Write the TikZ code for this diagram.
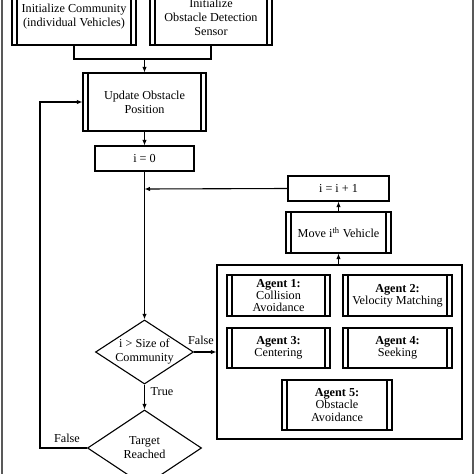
\documentclass[tikz,border=0pt]{standalone}
\usepackage{fontspec}
\setmainfont{Liberation Serif}
\usetikzlibrary{arrows.meta,shapes.geometric}
\begin{document}
\begin{tikzpicture}[x=1pt,y=-1pt,
  every path/.style={line width=1.1pt},
  arr/.style={-{Latex[length=5.5pt,width=4.5pt]}},
  txt/.style={font=\fontsize{12.2}{14}\selectfont, align=center, inner sep=0pt},
  box/.style={txt, draw, rectangle},
  proc/.style={box, path picture={
      \draw ([xshift=5pt]path picture bounding box.north west) -- ([xshift=5pt]path picture bounding box.south west);
      \draw ([xshift=-5pt]path picture bounding box.north east) -- ([xshift=-5pt]path picture bounding box.south east);}},
  agent/.style={proc, font=\fontsize{12.2}{12.2}\selectfont},
  dec/.style={txt, draw, diamond, aspect=1.5},
  lbl/.style={txt}
]
\useasboundingbox (0,0) rectangle (474,474);
\draw[gray!70!black, line width=2pt] (2,0) -- (2,474);
\draw[gray!70!black, line width=2pt] (472.5,0) -- (472.5,474);

\node[proc, minimum width=124pt, minimum height=56pt] (c1) at (74,17) {Initialize Community\\(individual Vehicles)};
\node[proc, minimum width=122pt, minimum height=56pt] (c2) at (211,17) {Initialize\\Obstacle Detection\\Sensor};
\node[proc, minimum width=123pt, minimum height=58pt] (up) at (144.5,102) {Update Obstacle\\Position};
\node[box, minimum width=99pt, minimum height=25pt] (i0) at (144.5,158.5) {i = 0};
\node[box, minimum width=101pt, minimum height=25pt] (inc) at (338.5,188.5) {i = i + 1};
\node[proc, minimum width=105pt, minimum height=41pt] (mv) at (338.5,232.5) {Move i\textsuperscript{th} Vehicle};
\node[draw, rectangle, minimum width=245pt, minimum height=174pt, inner sep=0pt] (cont) at (339.5,352) {};
\node[agent, minimum width=103pt, minimum height=41pt] (a1) at (278.5,295.5) {\textbf{Agent 1:}\\Collision\\Avoidance};
\node[agent, minimum width=109pt, minimum height=41pt] (a2) at (397.5,295.5) {\textbf{Agent 2:}\\Velocity Matching};
\node[agent, minimum width=103pt, minimum height=40pt] (a3) at (278.5,348) {\textbf{Agent 3:}\\Centering};
\node[agent, minimum width=109pt, minimum height=40pt] (a4) at (397.5,348) {\textbf{Agent 4:}\\Seeking};
\node[agent, minimum width=110pt, minimum height=50pt] (a5) at (337,405) {\textbf{Agent 5:}\\Obstacle\\Avoidance};
\node[dec, minimum width=98pt, minimum height=64pt] (d1) at (144.5,352) {i > Size of\\Community};
\node[dec, minimum width=114pt, minimum height=76pt] (d2) at (144.5,448) {Target\\Reached};

\coordinate (jn) at (144.5,59);
\coordinate (jl) at (144.5,189);
\coordinate (lb) at (40,448);
\coordinate (lt) at (40,102);

\draw (c1.south) |- (jn) -| (c2.south);
\draw[arr] (jn) -- (up.north);
\draw[arr] (up.south) -- (i0.north);
\draw[arr] (i0.south) -- (d1.north);
\draw[arr] (inc.west) -- (jl);
\draw[arr] (mv.north) -- (inc.south);
\draw[arr] (cont.north -| mv.south) -- (mv.south);
\draw[arr] (d1.east) -- (d1.east -| cont.west);
\draw[arr] (d1.south) -- (d2.north);
\draw[arr] (d2.west) -- (lb) -- (lt) -- (up.west);

\node[lbl] (lf1) at (201,340) {False};
\node[lbl] (lt1) at (162,392) {True};
\node[lbl] (lf2) at (67,438) {False};
\end{tikzpicture}
\end{document}
